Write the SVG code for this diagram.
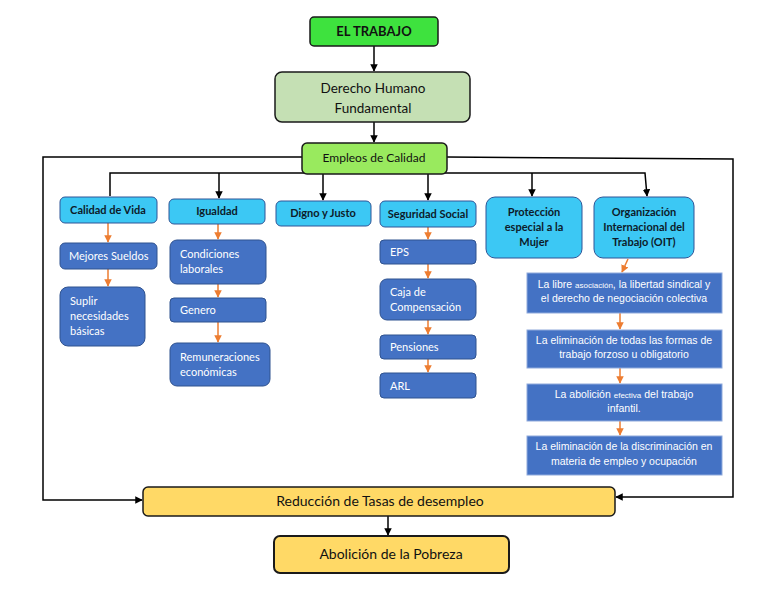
<svg xmlns="http://www.w3.org/2000/svg" width="768" height="594" viewBox="0 0 768 594">
<defs>
<marker id="ab" viewBox="0 0 10 10" refX="9" refY="5" markerWidth="5" markerHeight="5" orient="auto"><path d="M0,0 L10,5 L0,10 z" fill="#000"/></marker>
<marker id="ao" viewBox="0 0 10 10" refX="9" refY="5" markerWidth="5" markerHeight="5" orient="auto"><path d="M0,0 L10,5 L0,10 z" fill="#ed7d31"/></marker>
</defs>
<style>
text{font-family:Lato,"Open Sans","Liberation Sans",sans-serif;}
.k{stroke:#000;stroke-width:1.5;fill:none;}
.o{stroke:#ed7d31;stroke-width:1.5;fill:none;}
.lb{fill:#3cc8f4;stroke:#2f5597;stroke-width:1;}
.db{fill:#4472c4;stroke:#2f528f;stroke-width:1;}
.sq{fill:#4472c4;stroke:#8faadc;stroke-width:1;}
.t1{font-size:11px;font-weight:bold;fill:#0d1b2a;text-anchor:middle;}
.t2{font-size:11px;fill:#fff;}
.t3{font-family:"Liberation Sans",Arial,sans-serif;font-size:10.5px;fill:#fff;text-anchor:middle;}
.sm{font-size:8px;}
</style>
<rect width="768" height="594" fill="#fff"/>
<g id="connectors">
<path class="k" d="M374,46 V71" marker-end="url(#ab)"/>
<path class="k" d="M374,122 V142" marker-end="url(#ab)"/>
<path class="k" d="M302,157 H43 V500 H142" marker-end="url(#ab)"/>
<path class="k" d="M447,157 L733,159 V497 H616" marker-end="url(#ab)"/>
<path class="k" d="M110,196 V173 H645 L647,196" marker-end="url(#ab)"/>
<path class="k" d="M219,173 V198" marker-end="url(#ab)"/>
<path class="k" d="M323,174 V200" marker-end="url(#ab)"/>
<path class="k" d="M428,174 V200" marker-end="url(#ab)"/>
<path class="k" d="M532,173 V196" marker-end="url(#ab)"/>
<path class="k" d="M388,516 V535" marker-end="url(#ab)"/>
<path class="o" d="M108,223 V242" marker-end="url(#ao)"/>
<path class="o" d="M108,269 V286" marker-end="url(#ao)"/>
<path class="o" d="M218,224 V239" marker-end="url(#ao)"/>
<path class="o" d="M218,284 V297" marker-end="url(#ao)"/>
<path class="o" d="M218,322 V342" marker-end="url(#ao)"/>
<path class="o" d="M428,227 V239" marker-end="url(#ao)"/>
<path class="o" d="M428,264 V278" marker-end="url(#ao)"/>
<path class="o" d="M428,320 V334" marker-end="url(#ao)"/>
<path class="o" d="M428,359 V372" marker-end="url(#ao)"/>
<path class="o" d="M628,259 L622,272" marker-end="url(#ao)"/>
<path class="o" d="M620,313 V329" marker-end="url(#ao)"/>
<path class="o" d="M620,368 V383" marker-end="url(#ao)"/>
<path class="o" d="M620,421 V435" marker-end="url(#ao)"/>
</g>
<g id="trabajo">
<rect x="310" y="17" width="128" height="29" rx="4" fill="#3ee23e" stroke="#1a1a1a" stroke-width="1.5"/>
<text x="374" y="36" text-anchor="middle" font-size="13" font-weight="bold" fill="#111">EL TRABAJO</text>
</g>
<g id="derecho">
<rect x="275" y="72" width="195" height="50" rx="7" fill="#c5e0b4" stroke="#1a1a1a" stroke-width="1.5"/>
<text x="373" y="93" text-anchor="middle" font-size="13.5" fill="#111">Derecho Humano</text>
<text x="373" y="113" text-anchor="middle" font-size="13.5" fill="#111">Fundamental</text>
</g>
<g id="empleos">
<rect x="302" y="143" width="145" height="31" rx="5" fill="#99ea5e" stroke="#1a1a1a" stroke-width="1.5"/>
<text x="374" y="162" text-anchor="middle" font-size="12" fill="#111">Empleos de Calidad</text>
</g>
<g id="calidad">
<rect class="lb" x="60" y="197" width="97" height="26" rx="5"/>
<text class="t1" x="108" y="214">Calidad de Vida</text>
</g>
<g id="igualdad">
<rect class="lb" x="169" y="199" width="96" height="25" rx="5"/>
<text class="t1" x="217" y="215">Igualdad</text>
</g>
<g id="digno">
<rect class="lb" x="276" y="201" width="95" height="25" rx="5"/>
<text class="t1" x="323" y="217">Digno y Justo</text>
</g>
<g id="seguridad">
<rect class="lb" x="380" y="201" width="96" height="26" rx="5"/>
<text class="t1" x="428" y="218">Seguridad Social</text>
</g>
<g id="proteccion">
<rect class="lb" x="486" y="197" width="96" height="61" rx="9"/>
<text class="t1" x="534" y="216">Protección</text>
<text class="t1" x="534" y="231">especial a la</text>
<text class="t1" x="534" y="246">Mujer</text>
</g>
<g id="oit">
<rect class="lb" x="594" y="197" width="100" height="61" rx="9"/>
<text class="t1" x="644" y="216">Organización</text>
<text class="t1" x="644" y="231">Internacional del</text>
<text class="t1" x="644" y="246">Trabajo (OIT)</text>
</g>
<g id="sueldos">
<rect class="db" x="60" y="243" width="97" height="26" rx="5"/>
<text class="t2" x="69" y="260">Mejores Sueldos</text>
</g>
<g id="suplir">
<rect class="db" x="60" y="287" width="85" height="59" rx="8"/>
<text class="t2" x="70" y="305">Suplir</text>
<text class="t2" x="70" y="320">necesidades</text>
<text class="t2" x="70" y="335">básicas</text>
</g>
<g id="condiciones">
<rect class="db" x="170" y="240" width="96" height="44" rx="7"/>
<text class="t2" x="180" y="258">Condiciones</text>
<text class="t2" x="180" y="273">laborales</text>
</g>
<g id="genero">
<rect class="db" x="170" y="298" width="96" height="24" rx="4"/>
<text class="t2" x="180" y="314">Genero</text>
</g>
<g id="remuneraciones">
<rect class="db" x="170" y="343" width="100" height="43" rx="7"/>
<text class="t2" x="180" y="361">Remuneraciones</text>
<text class="t2" x="180" y="376">económicas</text>
</g>
<g id="eps">
<rect class="db" x="380" y="240" width="96" height="24" rx="4"/>
<text class="t2" x="390" y="256">EPS</text>
</g>
<g id="caja">
<rect class="db" x="380" y="279" width="96" height="41" rx="7"/>
<text class="t2" x="390" y="296">Caja de</text>
<text class="t2" x="390" y="311">Compensación</text>
</g>
<g id="pensiones">
<rect class="db" x="380" y="335" width="96" height="24" rx="4"/>
<text class="t2" x="390" y="351">Pensiones</text>
</g>
<g id="arl">
<rect class="db" x="380" y="373" width="96" height="25" rx="4"/>
<text class="t2" x="390" y="390">ARL</text>
</g>
<g id="oit1">
<rect class="sq" x="527" y="273" width="195" height="40"/>
<text class="t3" x="624" y="288">La libre <tspan class="sm">asociación</tspan>, la libertad sindical y</text>
<text class="t3" x="624" y="302">el derecho de negociación colectiva</text>
</g>
<g id="oit2">
<rect class="sq" x="527" y="330" width="195" height="38"/>
<text class="t3" x="624" y="344">La eliminación de todas las formas de</text>
<text class="t3" x="624" y="358">trabajo forzoso u obligatorio</text>
</g>
<g id="oit3">
<rect class="sq" x="527" y="384" width="195" height="37"/>
<text class="t3" x="624" y="398">La abolición <tspan class="sm">efectiva</tspan> del trabajo</text>
<text class="t3" x="624" y="412">infantil.</text>
</g>
<g id="oit4">
<rect class="sq" x="527" y="436" width="195" height="39"/>
<text class="t3" x="624" y="450">La eliminación de la discriminación en</text>
<text class="t3" x="624" y="465">materia de empleo y ocupación</text>
</g>
<g id="reduccion">
<rect x="143" y="487" width="472" height="29" rx="5" fill="#ffd966" stroke="#1a1a1a" stroke-width="1.5"/>
<text x="380" y="506" text-anchor="middle" font-size="14" fill="#111">Reducción de Tasas de desempleo</text>
</g>
<g id="pobreza">
<rect x="274" y="536" width="235" height="37" rx="6" fill="#ffd966" stroke="#1a1a1a" stroke-width="2"/>
<text x="391" y="559" text-anchor="middle" font-size="14" fill="#111">Abolición de la Pobreza</text>
</g>
</svg>
